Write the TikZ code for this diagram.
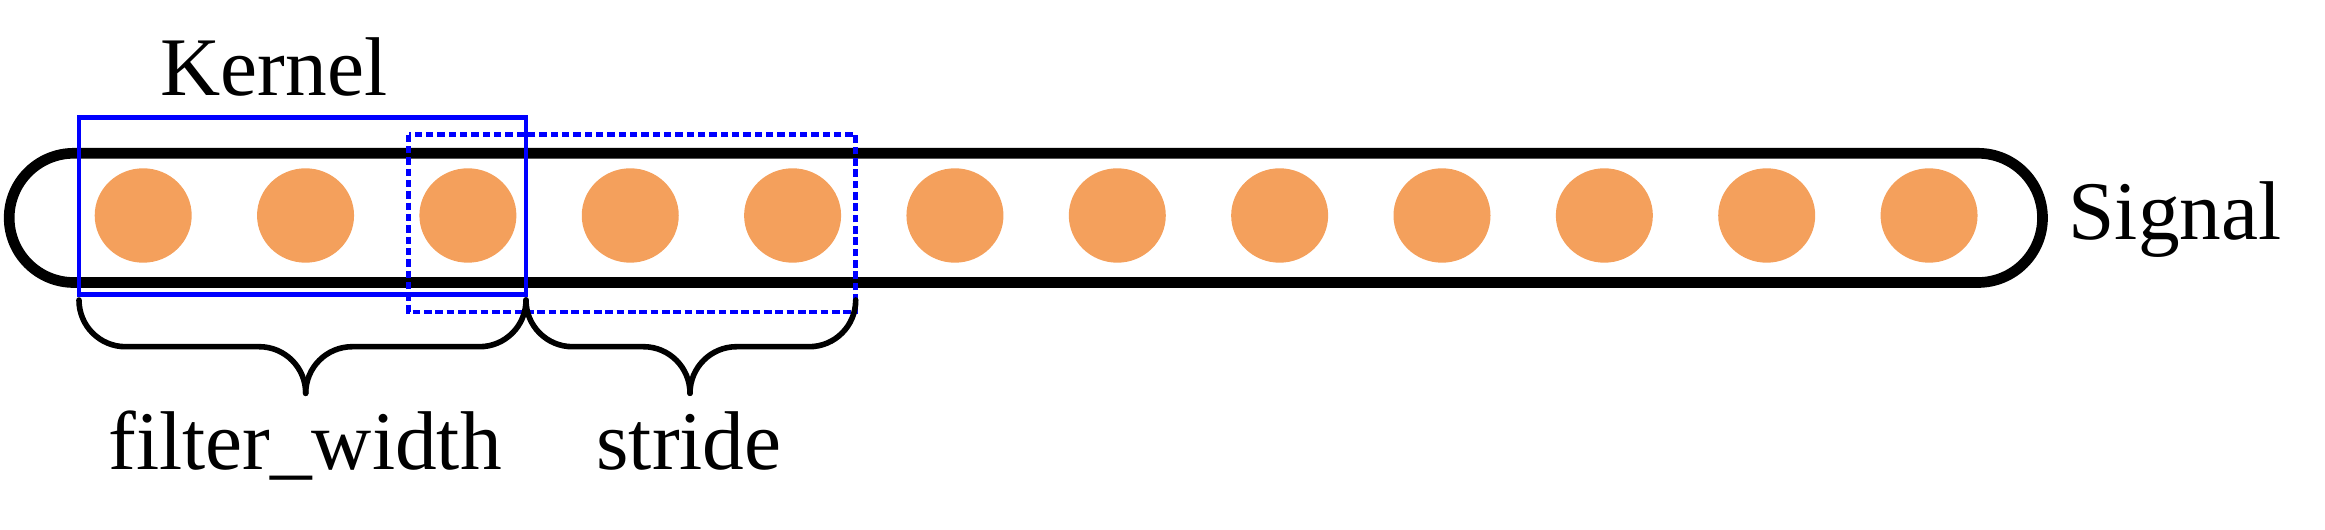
\documentclass[tikz,border=0pt]{standalone}
\usepackage{fontspec}
\setmainfont{Liberation Serif}
\usetikzlibrary{shapes.geometric}
\definecolor{dotorange}{RGB}{244,160,92}
\tikzset{every picture/.style={line width=0.75pt}}

\begin{document}
\begin{tikzpicture}[x=0.75pt,y=0.75pt,yscale=-1,xscale=1,
  sample/.style={ellipse,fill=dotorange,inner sep=0pt,minimum width=72.75pt,minimum height=70.8pt},
  labeltext/.style={anchor=base,inner sep=0pt,font=\fontsize{62.5}{70}\selectfont},
  kernelbox/.style={draw=blue,line width=3.6pt},
  shiftbox/.style={draw=blue,line width=3.6pt,dash pattern=on 5.6pt off 2.9pt},
  braceline/.style={line width=4.2pt,rounded corners=34.9pt,line cap=round}]
\useasboundingbox (0,0) rectangle (2325,530);

%Shape: Rounded Rect [id:signal frame]
\draw [line width=8pt,rounded corners=48.4pt] (9.2,153.3) rectangle (2042.5,282.5) ;
%Shape: Circles [id:samples]
\foreach \i in {1,...,12}
  \node [sample] (c\i) at ({143.2+162.35*(\i-1)},215.5) {};

%Shape: Rectangle [id:shifted kernel]
\draw [shiftbox] (408.7,134.7) rectangle (855.7,312) ;
%Shape: Rectangle [id:kernel]
\draw [kernelbox] (79,117.3) rectangle (526,294.3) ;

%Brace ends
\coordinate (ba) at (79,300);
\coordinate (bb) at (526,300);
\coordinate (bc) at (855.7,300);
\coordinate (tipa) at (305.7,393.3);
\coordinate (tipb) at (690,393.3);
%Curve Lines [id:brace filter_width]
\draw [braceline] (ba) -- (79,346.7) -- (305.7,346.7) -- (tipa) ;
\draw [braceline] (bb) -- (526,346.7) -- (305.7,346.7) -- (tipa) ;
%Curve Lines [id:brace stride]
\draw [braceline] (bb) -- (526,346.7) -- (690,346.7) -- (tipb) ;
\draw [braceline] (bc) -- (855.7,346.7) -- (690,346.7) -- (tipb) ;

% Text Node
\node [labeltext] (kernel) at (274,96) {Kernel};
% Text Node
\node [labeltext] (signal) at (2175,240) {Signal};
% Text Node
\node [labeltext] (fwidth) at (305,470) {filter\_width};
% Text Node
\node [labeltext] (stride) at (689,470) {stride};
\end{tikzpicture}
\end{document}
